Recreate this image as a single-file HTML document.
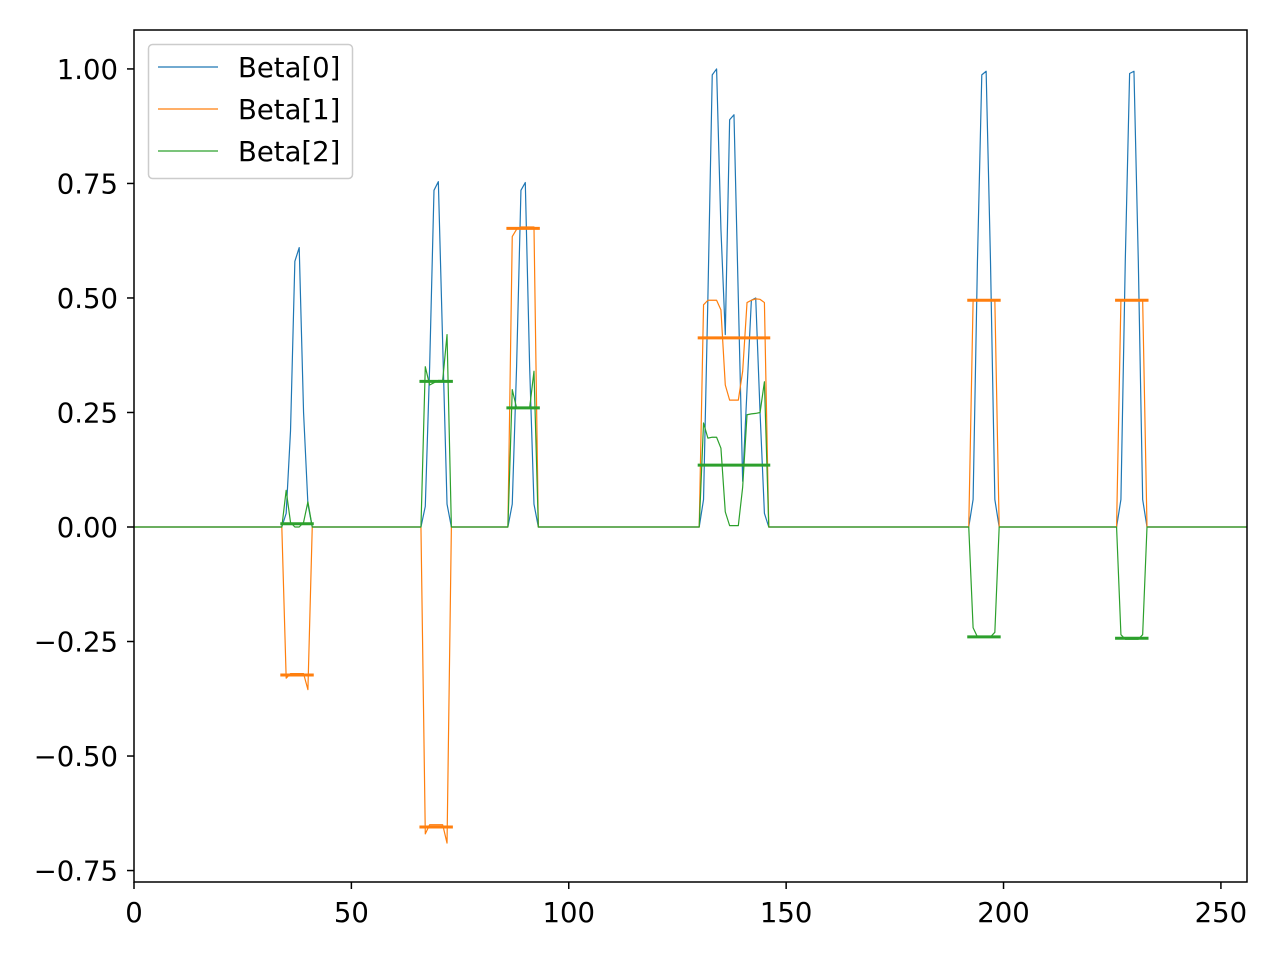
<!DOCTYPE html>
<html><head><meta charset="utf-8"><style>
html,body{margin:0;padding:0;background:#fff;}
svg{display:block;font-family:"DejaVu Sans","Liberation Sans",sans-serif;}
</style></head><body>
<svg id="chart" width="1280" height="960" xmlns="http://www.w3.org/2000/svg">
<rect x="0" y="0" width="1280" height="960" fill="#fff"/>
<g id="plot"></g>
</svg>
<script>
const xCount = 257;
const peakStarts = [34, 66, 86, 130, 192, 226];
const beta0Peaks = [
 [0,0.03,0.21,0.58,0.61,0.25,0.05,0],
 [0,0.045,0.35,0.735,0.754,0.4,0.05,0],
 [0,0.05,0.35,0.735,0.752,0.35,0.05,0],
 [0,0.06,0.5,0.987,1.0,0.65,0.42,0.889,0.9,0.5,0.1,0.3,0.495,0.5,0.25,0.03,0],
 [0,0.06,0.58,0.987,0.995,0.58,0.06,0],
 [0,0.06,0.58,0.99,0.995,0.58,0.06,0]
];
const beta1Peaks = [
 [0,-0.33,-0.32,-0.32,-0.32,-0.32,-0.355,0],
 [0,-0.67,-0.65,-0.65,-0.65,-0.65,-0.69,0],
 [0,0.634,0.65,0.655,0.655,0.655,0.655,0],
 [0,0.485,0.495,0.495,0.495,0.474,0.31,0.277,0.277,0.277,0.34,0.49,0.495,0.498,0.497,0.49,0],
 [0,0.495,0.495,0.495,0.495,0.495,0.495,0],
 [0,0.495,0.495,0.495,0.495,0.495,0.495,0]
];
const beta2Peaks = [
 [0,0.08,0.01,0,0,0.01,0.055,0],
 [0,0.35,0.31,0.315,0.32,0.32,0.42,0],
 [0,0.30,0.26,0.26,0.26,0.26,0.34,0],
 [0,0.227,0.194,0.196,0.196,0.172,0.033,0.003,0.003,0.003,0.087,0.245,0.247,0.248,0.25,0.317,0],
 [0,-0.22,-0.24,-0.24,-0.24,-0.24,-0.23,0],
 [0,-0.235,-0.245,-0.245,-0.245,-0.245,-0.235,0]
];
const beta1Means = [-0.323,-0.655,0.652,0.413,0.495,0.495];
const beta2Means = [0.007,0.318,0.26,0.135,-0.24,-0.243];
const xTicks = [0,50,100,150,200,250];
const yTicks = [1.00,0.75,0.50,0.25,0.00,-0.25,-0.50,-0.75];
const seriesNames = ["Beta[0]","Beta[1]","Beta[2]"];

const L=134,R=1247,T=30,B=882;
const xMin=0,xMax=256,yMin=-0.775,yMax=1.085;
function sx(v){return L+(v-xMin)/(xMax-xMin)*(R-L);}
function sy(v){return B-(v-yMin)/(yMax-yMin)*(B-T);}
const NS="http://www.w3.org/2000/svg";
const plot=document.getElementById('plot');
function mk(tag,attrs,parent){const e=document.createElementNS(NS,tag);for(const k in attrs)e.setAttribute(k,attrs[k]);(parent||plot).appendChild(e);return e;}
function fullSeries(peaks){const a=new Array(xCount).fill(0);peaks.forEach((p,i)=>p.forEach((v,j)=>{a[peakStarts[i]+j]=v;}));return a;}
const colors=["#1f77b4","#ff7f0e","#2ca02c"];
[beta0Peaks,beta1Peaks,beta2Peaks].forEach((pk,si)=>{
  const ys=fullSeries(pk);
  const d=ys.map((v,i)=>(i?'L':'M')+sx(i).toFixed(2)+','+sy(v).toFixed(2)).join('');
  const p=mk('path',{d:d,fill:'none',stroke:colors[si],'stroke-width':1.2,'stroke-linejoin':'round'});
  
  
});
[[beta1Means,beta1Peaks,1],[beta2Means,beta2Peaks,2]].forEach(([means,pks,si])=>{
  means.forEach((m,i)=>{
    const s=peakStarts[i],e=s+pks[i].length-1;
    const l=mk('line',{x1:sx(s),x2:sx(e),y1:sy(m),y2:sy(m),stroke:colors[si],'stroke-width':3,'stroke-linecap':'square'});
    
    
  });
});
const fr=mk('rect',{x:L,y:T,width:R-L,height:B-T,fill:'none',stroke:'#000','stroke-width':1.5});


xTicks.forEach(t=>{
  const x=sx(t);
  const tk=mk('line',{x1:x,x2:x,y1:B,y2:B+7,stroke:'#000','stroke-width':1.5});
  
  
  const tx=mk('text',{x:x,y:B+40,'text-anchor':'middle','font-size':27.5,fill:'#000'});
  tx.textContent=String(t);
  
  
});
yTicks.forEach(t=>{
  const y=sy(t);
  const tk=mk('line',{x1:L-7,x2:L,y1:y,y2:y,stroke:'#000','stroke-width':1.5});
  
  
  const tx=mk('text',{x:L-16,y:y+10,'text-anchor':'end','font-size':27.5,fill:'#000'});
  tx.textContent=(t<0?'\u2212':'')+Math.abs(t).toFixed(2);
  
  
});
const lg=mk('g',{});


mk('rect',{x:148.5,y:44.5,width:204,height:134,rx:4,fill:'#fff','fill-opacity':0.8,stroke:'#ccc','stroke-width':1.5},lg);
seriesNames.forEach((n,i)=>{
  const y=67+i*42;
  const ln=mk('line',{x1:158,x2:218,y1:y,y2:y,stroke:colors[i],'stroke-width':1.2},lg);
  
  
  const tx=mk('text',{x:238,y:y+10,'font-size':27.5,fill:'#000'},lg);
  tx.textContent=n;
  
  
});
</script>
</body></html>
